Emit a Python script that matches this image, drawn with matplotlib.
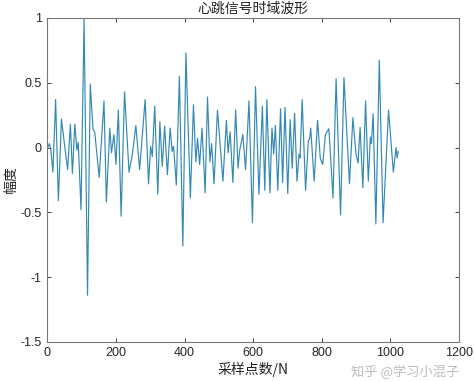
import matplotlib
matplotlib.use("Agg")
import matplotlib.pyplot as plt

# Sample index and amplitude (turning points of the waveform)
sample_idx = [1, 6, 10, 16, 24, 32, 41, 50, 59, 67, 73, 80, 86, 90, 98, 107, 117, 125, 133,
              138, 151, 165, 172, 182, 187, 194, 200, 207, 215, 225, 238, 248, 258, 269, 285,
              295, 301, 306, 313, 322, 328, 335, 342, 350, 358, 364, 368, 376, 385, 395, 404,
              417, 426, 433, 438, 444, 451, 460, 467, 474, 479, 486, 496, 512, 522, 527, 533,
              541, 549, 556, 561, 570, 578, 588, 598, 607, 617, 627, 634, 640, 649, 655, 660,
              665, 672, 680, 686, 693, 701, 708, 714, 721, 728, 734, 737, 743, 753, 761, 765,
              768, 778, 788, 796, 803, 811, 821, 833, 842, 855, 865, 881, 891, 900, 906, 912,
              920, 928, 936, 942, 945, 950, 958, 968, 979, 995, 1009, 1017, 1020, 1023]
amplitude = [0.0, 0.03, -0.02, -0.19, 0.37, -0.41, 0.22, 0.02, -0.17, 0.18, -0.20, 0.18, -0.02,
             0.04, -0.48, 0.99, -1.14, 0.49, 0.14, 0.12, -0.23, 0.36, -0.42, 0.15, -0.04, 0.10,
             -0.13, 0.29, -0.53, 0.43, -0.19, -0.05, 0.17, -0.17, 0.37, -0.28, 0.01, -0.07, 0.32,
             -0.36, 0.20, -0.145, 0.165, -0.21, 0.15, -0.03, 0.01, -0.29, 0.55, -0.76, 0.73,
             -0.39, 0.33, -0.11, 0.07, -0.13, 0.15, -0.35, 0.39, -0.11, 0.03, -0.28, 0.29, -0.26,
             0.21, -0.04, 0.12, -0.27, 0.29, -0.16, -0.02, 0.10, -0.17, 0.36, -0.58, 0.47, -0.36,
             0.32, -0.33, 0.37, -0.35, 0.15, -0.05, 0.17, -0.33, 0.30, -0.27, 0.31, -0.355, 0.215,
             -0.16, 0.265, -0.26, -0.05, -0.08, 0.37, -0.33, 0.05, 0.07, 0.15, -0.26, 0.21, -0.085,
             -0.13, 0.10, 0.145, -0.39, 0.53, -0.52, 0.54, -0.28, 0.23, -0.05, -0.12, 0.155, -0.31,
             0.36, -0.26, 0.08, 0.03, 0.26, -0.59, 0.675, -0.58, 0.29, -0.19, 0.0, -0.08, -0.03]

x_ticks = [0, 200, 400, 600, 800, 1000, 1200]
x_tick_labels = ["0", "200", "400", "600", "800", "1000", "1200"]
y_ticks = [-1.5, -1, -0.5, 0, 0.5, 1]
y_tick_labels = ["-1.5", "-1", "-0.5", "0", "0.5", "1"]

title_text = "心跳信号时域波形"
x_label = "采样点数/N"
y_label = "幅度"
watermark = "知乎 @学习小混子"

cjk = ["Noto Sans CJK SC", "DejaVu Sans"]

fig = plt.figure(figsize=(4.74, 3.82), dpi=100)
ax = fig.add_axes([0.100, 0.105, 0.868, 0.848])
ax.plot(sample_idx, amplitude, color="#3389b5", linewidth=0.85)

ax.set_xlim(0, 1200)
ax.set_ylim(-1.5, 1)
ax.set_xticks(x_ticks)
ax.set_xticklabels(x_tick_labels, fontsize=9, family=["Liberation Sans", "DejaVu Sans"])
ax.set_yticks(y_ticks)
ax.set_yticklabels(y_tick_labels, fontsize=9, family=["Liberation Sans", "DejaVu Sans"])
ax.tick_params(direction="in", length=3, width=0.6, top=True, right=True,
               colors="#262626", pad=4)
for s in ax.spines.values():
    s.set_color("#777777")
    s.set_linewidth(0.8)

ax.set_title(title_text, fontsize=10, family=cjk, pad=4, color="#222222")
ax.set_xlabel(x_label, fontsize=10, family=cjk, labelpad=2, color="#222222")
ax.set_ylabel(y_label, fontsize=10, family=cjk, labelpad=2, color="#222222")

fig.text(0.855, 0.027, watermark, fontsize=9.5, family=cjk, color="#bdbdbd",
         ha="center", va="center")

fig.savefig("out.png", dpi=100)
